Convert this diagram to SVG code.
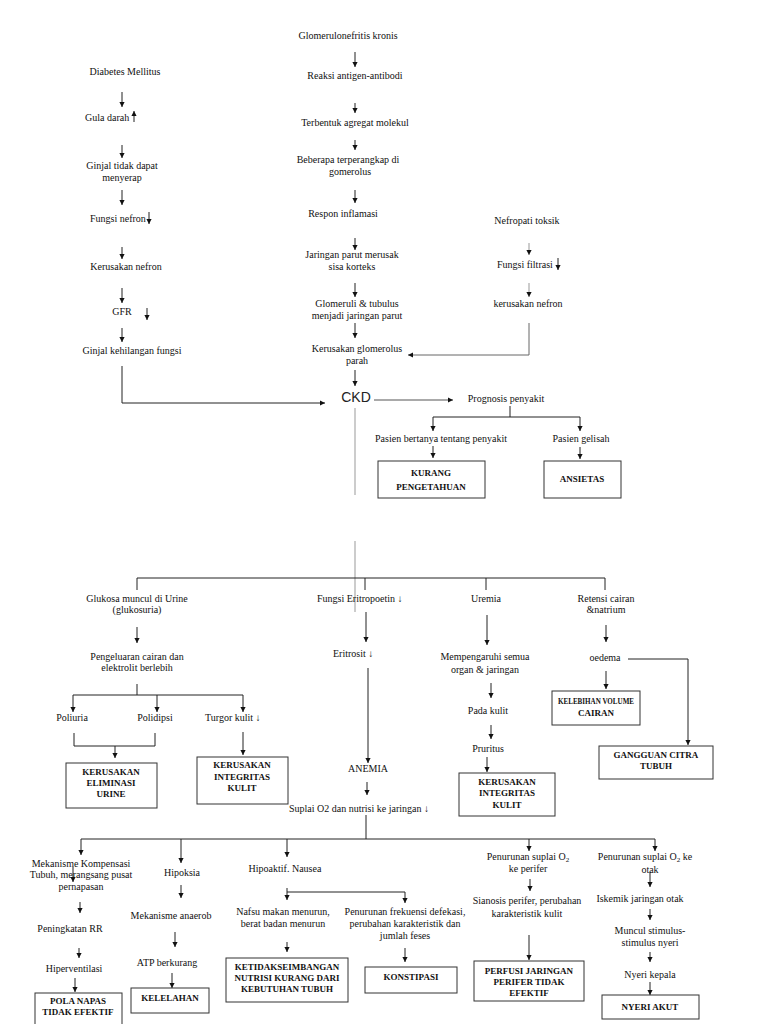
<svg xmlns="http://www.w3.org/2000/svg" width="768" height="1024" viewBox="0 0 768 1024">
<defs>
<marker id="ah" markerWidth="6" markerHeight="6" refX="5" refY="3" orient="auto" markerUnits="userSpaceOnUse"><path d="M0,0.4 L5,3 L0,5.6 z" fill="#111"/></marker>
<style>
.t{font-family:"Liberation Serif","Times New Roman",serif;font-size:10px;fill:#111;text-anchor:middle}
.s{text-anchor:start}
.b{font-family:"Liberation Serif","Times New Roman",serif;font-size:9px;font-weight:bold;fill:#111;text-anchor:middle}
.ckd{font-family:"Liberation Sans",Arial,sans-serif;font-size:14px;fill:#222;text-anchor:middle}
.ln{stroke:#222;stroke-width:1;fill:none}
.a{stroke:#222;stroke-width:1;fill:none;marker-end:url(#ah)}
.g{stroke:#999}
.bx{fill:#fff;stroke:#333;stroke-width:1}
.sub{font-size:7px}
</style>
</defs>
<rect width="768" height="1024" fill="#fff"/>

<g id="connectors">
<path class="a" d="M122,92 V107"/>
<path class="a" d="M122,145 V158"/>
<path class="a" d="M122,190 V205"/>
<path class="a" d="M122,247 V259"/>
<path class="a" d="M122,288 V303"/>
<path class="a" d="M122,328 V342"/>
<path class="a" d="M122,366 V403 H325"/>
<path class="a" d="M355,52 V67"/>
<path class="a" d="M355,103 V113"/>
<path class="a" d="M355,140 V150"/>
<path class="a" d="M355,190 V203"/>
<path class="a" d="M355,238 V250"/>
<path class="a" d="M355,283 V297"/>
<path class="a" d="M355,323 V338"/>
<path class="a" d="M355,370 V386"/>
<path class="a g" d="M529,243 V255"/>
<path class="a g" d="M529,283 V297"/>
<path class="a" d="M529,323 V355 H408" style="stroke:#666"/>
<path class="a" d="M374,400 H453" style="stroke:#555"/>
<path class="ln" d="M510,406 V417 M433,417 H580"/>
<path class="a" d="M433,417 V431"/>
<path class="a" d="M580,417 V431"/>
<path class="a" d="M433,446 V458"/>
<path class="a" d="M580,447 V459"/>
<path class="ln g" d="M355,408 V495 M355,541 V612"/>
<path class="ln" d="M137,578 H605 M137,578 V590 M365,578 V590 M486,578 V590 M605,578 V590"/>
<path class="a" d="M137,627 V643"/>
<path class="ln" d="M137,684 V695 M73,695 H243"/>
<path class="a" d="M73,695 V712"/>
<path class="a" d="M157,695 V712"/>
<path class="a" d="M243,695 V712"/>
<path class="ln" d="M74,733 V746 H155 V733"/>
<path class="a" d="M115,746 V758"/>
<path class="a" d="M243,732 V755"/>
<path class="a" d="M366,612 V642"/>
<path class="a" d="M368,668 V763"/>
<path class="a" d="M367,782 V795"/>
<path class="a" d="M487,615 V645"/>
<path class="a" d="M491,683 V698"/>
<path class="a" d="M491,725 V739"/>
<path class="a" d="M487,757 V772"/>
<path class="a" d="M606,625 V642"/>
<path class="a" d="M606,671 V689"/>
<path class="a" d="M628,659 H688 V745"/>
<path class="ln" d="M366,815 V839 M81,839 H655"/>
<path class="a" d="M81,839 V855"/>
<path class="a" d="M181,839 V863"/>
<path class="a" d="M287,839 V857"/>
<path class="a" d="M529,839 V851"/>
<path class="a" d="M655,839 V851"/>
<path class="a" d="M73,867 V882"/>
<path class="a" d="M80,902 V913"/>
<path class="a" d="M79,948 V958"/>
<path class="a" d="M75,978 V992"/>
<path class="a" d="M181,885 V898"/>
<path class="a" d="M175,932 V947"/>
<path class="a" d="M172,973 V988"/>
<path class="a" d="M287,888 V900"/>
<path class="a" d="M287,892 H405 V903"/>
<path class="a" d="M287,942 V952"/>
<path class="a" d="M405,948 V962"/>
<path class="a" d="M530,879 V891"/>
<path class="a" d="M529,935 V960"/>
<path class="a" d="M650,872 V887"/>
<path class="a" d="M650,909 V920"/>
<path class="a" d="M650,952 V962"/>
<path class="a" d="M650,982 V995"/>
</g>

<g id="dm"><text class="t" x="125" y="74.5">Diabetes Mellitus</text></g>
<g id="gula"><text class="t s" x="85" y="120.5">Gula darah</text><path class="a" d="M134,122 V111"/></g>
<g id="ginjal1"><text class="t" x="122" y="168.5">Ginjal tidak dapat</text><text class="t" x="122" y="180.5">menyerap</text></g>
<g id="fungsinefron"><text class="t s" x="90" y="221.5">Fungsi nefron</text><path class="a" d="M149,212 V224"/></g>
<g id="kerusakannefron"><text class="t" x="126" y="269.5">Kerusakan nefron</text></g>
<g id="gfr"><text class="t" x="122" y="314.5">GFR</text><path class="a" d="M147,308 V320"/></g>
<g id="ginjal2"><text class="t" x="132" y="353.5">Ginjal kehilangan fungsi</text></g>

<g id="glomerulo"><text class="t" x="348" y="38.5">Glomerulonefritis kronis</text></g>
<g id="reaksi"><text class="t" x="355" y="78.5">Reaksi antigen-antibodi</text></g>
<g id="agregat"><text class="t" x="355" y="125.5">Terbentuk agregat molekul</text></g>
<g id="terperangkap"><text class="t" x="348" y="162.5">Beberapa terperangkap di</text><text class="t" x="350" y="175">gomerolus</text></g>
<g id="respon"><text class="t" x="343" y="216.5">Respon inflamasi</text></g>
<g id="jaringanparut"><text class="t" x="352" y="257.5">Jaringan parut merusak</text><text class="t" x="352" y="269.5">sisa korteks</text></g>
<g id="glomeruli"><text class="t" x="357" y="306.5">Glomeruli &amp; tubulus</text><text class="t" x="357" y="318.5">menjadi jaringan parut</text></g>
<g id="kerusakanglom"><text class="t" x="357" y="351.5">Kerusakan glomerolus</text><text class="t" x="357" y="363.5">parah</text></g>

<g id="nefropati"><text class="t" x="527" y="223.5">Nefropati toksik</text></g>
<g id="filtrasi"><text class="t s" x="497" y="267.5">Fungsi filtrasi</text><path class="a" d="M558,258 V270"/></g>
<g id="kerusakannefron2"><text class="t" x="528" y="306.5">kerusakan nefron</text></g>

<g id="ckd"><text class="ckd" x="356" y="402">CKD</text></g>
<g id="prognosis"><text class="t" x="506" y="401.5">Prognosis penyakit</text></g>
<g id="bertanya"><text class="t" x="441" y="441.5">Pasien bertanya tentang penyakit</text></g>
<g id="gelisah"><text class="t" x="581" y="441.5">Pasien gelisah</text></g>
<g id="kurang"><rect class="bx" x="378" y="461" width="107" height="37"/><text class="b" x="431" y="476">KURANG</text><text class="b" x="431" y="490">PENGETAHUAN</text></g>
<g id="ansietas"><rect class="bx" x="544" y="461" width="77" height="37"/><text class="b" x="582" y="482">ANSIETAS</text></g>

<g id="glukosa"><text class="t" x="137" y="601.5">Glukosa muncul di Urine</text><text class="t" x="137" y="612.5">(glukosuria)</text></g>
<g id="pengeluaran"><text class="t" x="137" y="659.5">Pengeluaran cairan dan</text><text class="t" x="137" y="670.5">elektrolit berlebih</text></g>
<g id="poliuria"><text class="t" x="72" y="720.5">Poliuria</text></g>
<g id="polidipsi"><text class="t" x="155" y="720.5">Polidipsi</text></g>
<g id="turgor"><text class="t s" x="205" y="720.5">Turgor kulit <tspan font-weight="bold">↓</tspan></text></g>
<g id="eliminasi"><rect class="bx" x="66" y="763" width="91" height="45"/><text class="b" x="111" y="775">KERUSAKAN</text><text class="b" x="111" y="786">ELIMINASI</text><text class="b" x="111" y="797">URINE</text></g>
<g id="integritas1"><rect class="bx" x="197" y="757" width="91" height="47"/><text class="b" x="242" y="768">KERUSAKAN</text><text class="b" x="242" y="779.5">INTEGRITAS</text><text class="b" x="242" y="790.5">KULIT</text></g>

<g id="eritropoetin"><text class="t s" x="317" y="601.5">Fungsi Eritropoetin <tspan font-weight="bold">↓</tspan></text></g>
<g id="eritrosit"><text class="t s" x="333" y="656.5">Eritrosit <tspan font-weight="bold">↓</tspan></text></g>
<g id="anemia"><text class="t" x="368" y="771.5">ANEMIA</text></g>
<g id="suplai"><text class="t s" x="289" y="811.5">Suplai O2 dan nutrisi ke jaringan <tspan font-weight="bold">↓</tspan></text></g>

<g id="uremia"><text class="t" x="486" y="601.5">Uremia</text></g>
<g id="mempengaruhi"><text class="t" x="485" y="659.5">Mempengaruhi semua</text><text class="t" x="485" y="672.5">organ &amp; jaringan</text></g>
<g id="padakulit"><text class="t" x="488" y="713.5">Pada kulit</text></g>
<g id="pruritus"><text class="t" x="488" y="751.5">Pruritus</text></g>
<g id="integritas2"><rect class="bx" x="459" y="773" width="96" height="43"/><text class="b" x="507" y="785">KERUSAKAN</text><text class="b" x="507" y="796">INTEGRITAS</text><text class="b" x="507" y="808">KULIT</text></g>

<g id="retensi"><text class="t" x="606" y="601.5">Retensi cairan</text><text class="t" x="606" y="612.5">&amp;natrium</text></g>
<g id="oedema"><text class="t" x="605" y="660.5">oedema</text></g>
<g id="kelebihan"><rect class="bx" x="552" y="691" width="88" height="34"/><text class="b" x="596" y="704" textLength="76" lengthAdjust="spacingAndGlyphs">KELEBIHAN VOLUME</text><text class="b" x="596" y="716">CAIRAN</text></g>
<g id="gangguan"><rect class="bx" x="599" y="746" width="114" height="33"/><text class="b" x="656" y="758">GANGGUAN CITRA</text><text class="b" x="656" y="769">TUBUH</text></g>

<g id="kompensasi"><text class="t" x="81" y="866.5">Mekanisme Kompensasi</text><text class="t" x="81" y="877.5">Tubuh, merangsang pusat</text><text class="t" x="81" y="889.5">pernapasan</text></g>
<g id="rr"><text class="t" x="70" y="931.5">Peningkatan RR</text></g>
<g id="hiperventilasi"><text class="t" x="74" y="971.5">Hiperventilasi</text></g>
<g id="polanapas"><rect class="bx" x="35" y="993" width="87" height="34"/><text class="b" x="78" y="1004">POLA NAPAS</text><text class="b" x="78" y="1015">TIDAK EFEKTIF</text></g>

<g id="hipoksia"><text class="t" x="182" y="875.5">Hipoksia</text></g>
<g id="anaerob"><text class="t" x="171" y="918.5">Mekanisme anaerob</text></g>
<g id="atp"><text class="t" x="167" y="965.5">ATP berkurang</text></g>
<g id="kelelahan"><rect class="bx" x="131" y="988" width="78" height="25"/><text class="b" x="170" y="1001">KELELAHAN</text></g>

<g id="hipoaktif"><text class="t" x="285" y="871.5">Hipoaktif. Nausea</text></g>
<g id="nafsu"><text class="t" x="283" y="914.5">Nafsu makan menurun,</text><text class="t" x="283" y="926.5">berat badan menurun</text></g>
<g id="defekasi"><text class="t" x="405" y="914.5">Penurunan frekuensi defekasi,</text><text class="t" x="405" y="926.5">perubahan karakteristik dan</text><text class="t" x="405" y="938.5">jumlah feses</text></g>
<g id="nutrisi"><rect class="bx" x="226" y="958" width="122" height="44"/><text class="b" x="287" y="970">KETIDAKSEIMBANGAN</text><text class="b" x="287" y="981">NUTRISI KURANG DARI</text><text class="b" x="287" y="992">KEBUTUHAN TUBUH</text></g>
<g id="konstipasi"><rect class="bx" x="365" y="967" width="92" height="26"/><text class="b" x="411" y="980">KONSTIPASI</text></g>

<g id="perifer"><text class="t" x="528" y="859.5">Penurunan suplai O<tspan class="sub" dy="2">2</tspan></text><text class="t" x="528" y="871.5">ke perifer</text></g>
<g id="sianosis"><text class="t" x="527" y="903.5">Sianosis perifer, perubahan</text><text class="t" x="527" y="916.5">karakteristik kulit</text></g>
<g id="perfusi"><rect class="bx" x="474" y="961" width="110" height="40"/><text class="b" x="529" y="974">PERFUSI JARINGAN</text><text class="b" x="529" y="985">PERIFER TIDAK</text><text class="b" x="529" y="996">EFEKTIF</text></g>

<g id="otak"><text class="t" x="645" y="859.5">Penurunan suplai O<tspan class="sub" dy="2">2</tspan><tspan dy="-2"> ke</tspan></text><text class="t" x="650" y="872.5">otak</text></g>
<g id="iskemik"><text class="t" x="640" y="901.5">Iskemik jaringan otak</text></g>
<g id="stimulus"><text class="t" x="650" y="933.5">Muncul stimulus-</text><text class="t" x="650" y="945.5">stimulus nyeri</text></g>
<g id="nyerikepala"><text class="t" x="650" y="977.5">Nyeri kepala</text></g>
<g id="nyeriakut"><rect class="bx" x="602" y="995" width="97" height="24"/><text class="b" x="650" y="1010">NYERI AKUT</text></g>
</svg>
